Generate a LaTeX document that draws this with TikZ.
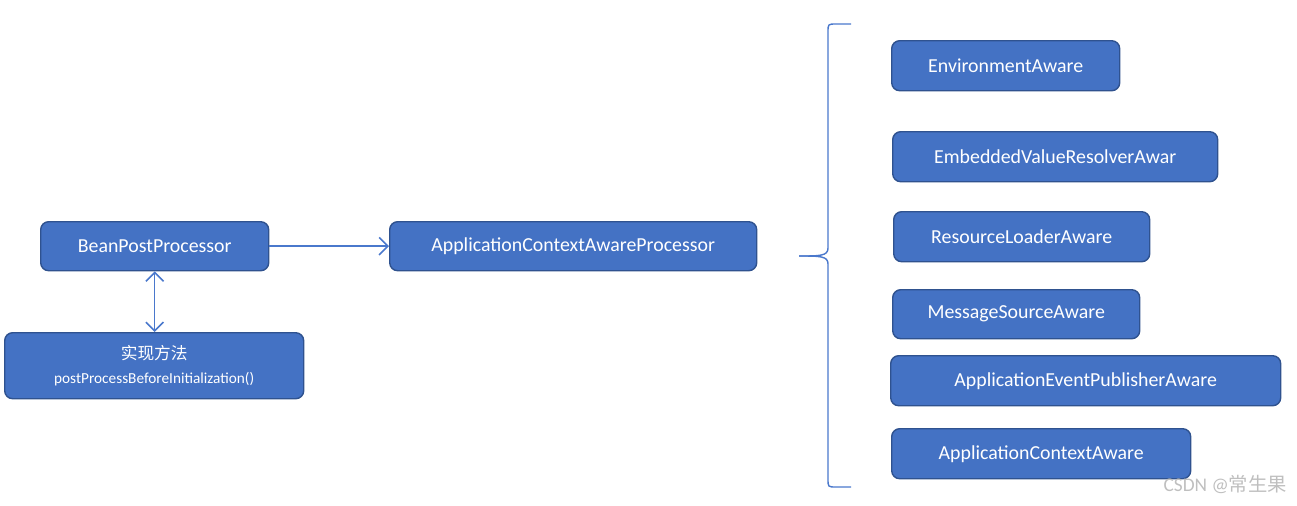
\documentclass[tikz,border=0pt]{standalone}
\usepackage{fontspec}
\setmainfont{Carlito}
\newfontfamily\cjk{Noto Sans CJK SC}
\usetikzlibrary{arrows.meta}
\definecolor{boxfill}{HTML}{4472C4}
\definecolor{boxline}{HTML}{2F528F}
\definecolor{wire}{HTML}{4A78CC}
\begin{document}
\begin{tikzpicture}[x=0.02cm,y=-0.02cm,
  box/.style={draw=boxline, line width=0.8pt, fill=boxfill, rounded corners=0.16cm,
    text=white, font=\fontsize{11.3}{13}\selectfont, inner sep=0pt, anchor=north west},
  link/.style={draw=wire, line width=0.9pt}]
\useasboundingbox (0,0) rectangle (1297,505);
\node[box, minimum width=228*0.02cm, minimum height=49*0.02cm] (bpp) at (40,221) {BeanPostProcessor};
\node[box, minimum width=367*0.02cm, minimum height=49*0.02cm] (acap) at (389,221) {ApplicationContextAwareProcessor};
\node[box, minimum width=299*0.02cm, minimum height=66*0.02cm, align=center] (impl) at (4,332)
  {{\cjk\fontsize{9.5}{12}\selectfont 实现方法}\\[1pt]{\fontsize{8.7}{11}\selectfont postProcessBeforeInitialization()}};
\node[box, minimum width=228*0.02cm, minimum height=50*0.02cm] (env) at (891,40) {EnvironmentAware};
\node[box, minimum width=325*0.02cm, minimum height=50*0.02cm] (emb) at (892,131) {EmbeddedValueResolverAwar};
\node[box, minimum width=256*0.02cm, minimum height=50*0.02cm] (res) at (893,211) {ResourceLoaderAware};
\node[box, minimum width=247*0.02cm, minimum height=49*0.02cm] (msg) at (892,289) {MessageSourceAware};
\node[box, minimum width=390*0.02cm, minimum height=50*0.02cm] (pub) at (890,355) {ApplicationEventPublisherAware};
\node[box, minimum width=299*0.02cm, minimum height=50*0.02cm] (ctx) at (891,428) {ApplicationContextAware};
% connectors
\draw[link, -{Straight Barb[length=5pt,width=10pt]}] (bpp.east) -- (acap.west);
\draw[link, {Straight Barb[length=5pt,width=10pt]}-{Straight Barb[length=5pt,width=10pt]}] (bpp.south) -- (impl.north -| bpp.south);
% brace
\coordinate (bt) at (851,24);
\coordinate (bb) at (851,487);
\coordinate (bm) at (799,256);
\draw[link, line width=0.8pt] (bt) -- (836,24) .. controls (828,24) .. (828,32) -- (828,248)
  .. controls (828,256) and (820,256) .. (bm);
\draw[link, line width=0.8pt] (bm) .. controls (820,256) and (828,256) .. (828,264) -- (828,479)
  .. controls (828,487) .. (836,487) -- (bb);
\node[text=black!25, font=\fontsize{11}{13}\selectfont, anchor=east] (wm) at (1293,484) {CSDN @{\cjk 常生果}};
\end{tikzpicture}
\end{document}
